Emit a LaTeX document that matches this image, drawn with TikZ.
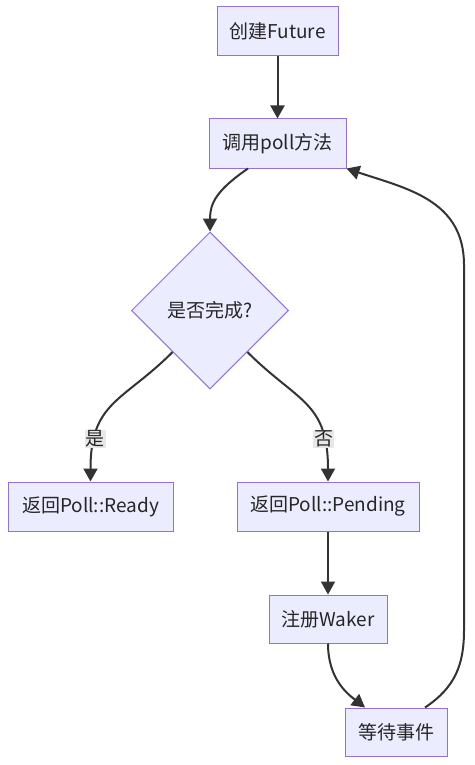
\documentclass[tikz,border=0pt]{standalone}
\usepackage{fontspec}
\setmainfont{Noto Sans CJK SC}
\usetikzlibrary{arrows.meta,shapes.geometric}
\definecolor{nodefill}{HTML}{ECECFF}
\definecolor{nodeline}{HTML}{9370DB}
\definecolor{edgeline}{HTML}{333333}
\definecolor{labelbg}{HTML}{E8E8E8}
\definecolor{textcol}{HTML}{262626}
\tikzset{
  box/.style={draw=nodeline, fill=nodefill, line width=1pt, inner sep=0pt,
    minimum height=49pt, text=textcol, font=\fontsize{19pt}{22pt}\selectfont},
  dec/.style={diamond, draw=nodeline, fill=nodefill, line width=1pt, inner sep=0pt,
    minimum width=157pt, minimum height=157pt, text=textcol, font=\fontsize{19pt}{22pt}\selectfont},
  conn/.style={draw=edgeline, line width=2pt, -{Triangle[length=13pt,width=14pt]}},
  plainconn/.style={draw=edgeline, line width=2pt},
  elabel/.style={fill=labelbg, inner sep=1pt, text=textcol, font=\fontsize{19pt}{22pt}\selectfont},
}
\begin{document}
\begin{tikzpicture}[x=1pt,y=-1pt]
\useasboundingbox (0,0) rectangle (474,765);
\node[box, minimum width=121pt] (create) at (277.5,31) {创建Future};
\node[box, minimum width=137pt] (poll) at (277.5,143.5) {调用poll方法};
\node[dec] (done) at (210,310.5) {是否完成?};
\node[box, minimum width=165pt] (ready) at (90.5,506.5) {返回Poll::Ready};
\node[box, minimum width=182pt] (pending) at (328,506.5) {返回Poll::Pending};
\node[box, minimum width=118pt, minimum height=48pt] (waker) at (328,619) {注册Waker};
\node[box, minimum width=102pt, minimum height=48pt] (wait) at (396,732) {等待事件};

\draw[conn] (create.south) -- (poll.north);
\draw[conn] ([xshift=-29.5pt]poll.south) .. controls +(-32,22) and +(0,-28) .. (done.north);
\draw[conn] (done.228) .. controls +(-50,50) and +(0,-80) .. (ready.north)
  node[elabel, pos=0.78] (yes) {是};
\draw[conn] (done.-48) .. controls +(50,50) and +(0,-80) .. (pending.north)
  node[elabel, pos=0.78] (no) {否};
\draw[conn] (pending.south) -- (waker.north);
\draw[conn] (waker.south) .. controls +(0,35) and +(-18,-14) .. ([xshift=-31pt]wait.north);
\coordinate (loopA) at (464,630);
\coordinate (loopB) at (464,265);
\draw[plainconn] ([xshift=29pt]wait.north) .. controls +(30,-20) and +(0,35) .. (loopA) -- (loopB);
\draw[conn] (loopB) .. controls +(0,-65) and +(60,20) .. (poll.south east);
\end{tikzpicture}
\end{document}
